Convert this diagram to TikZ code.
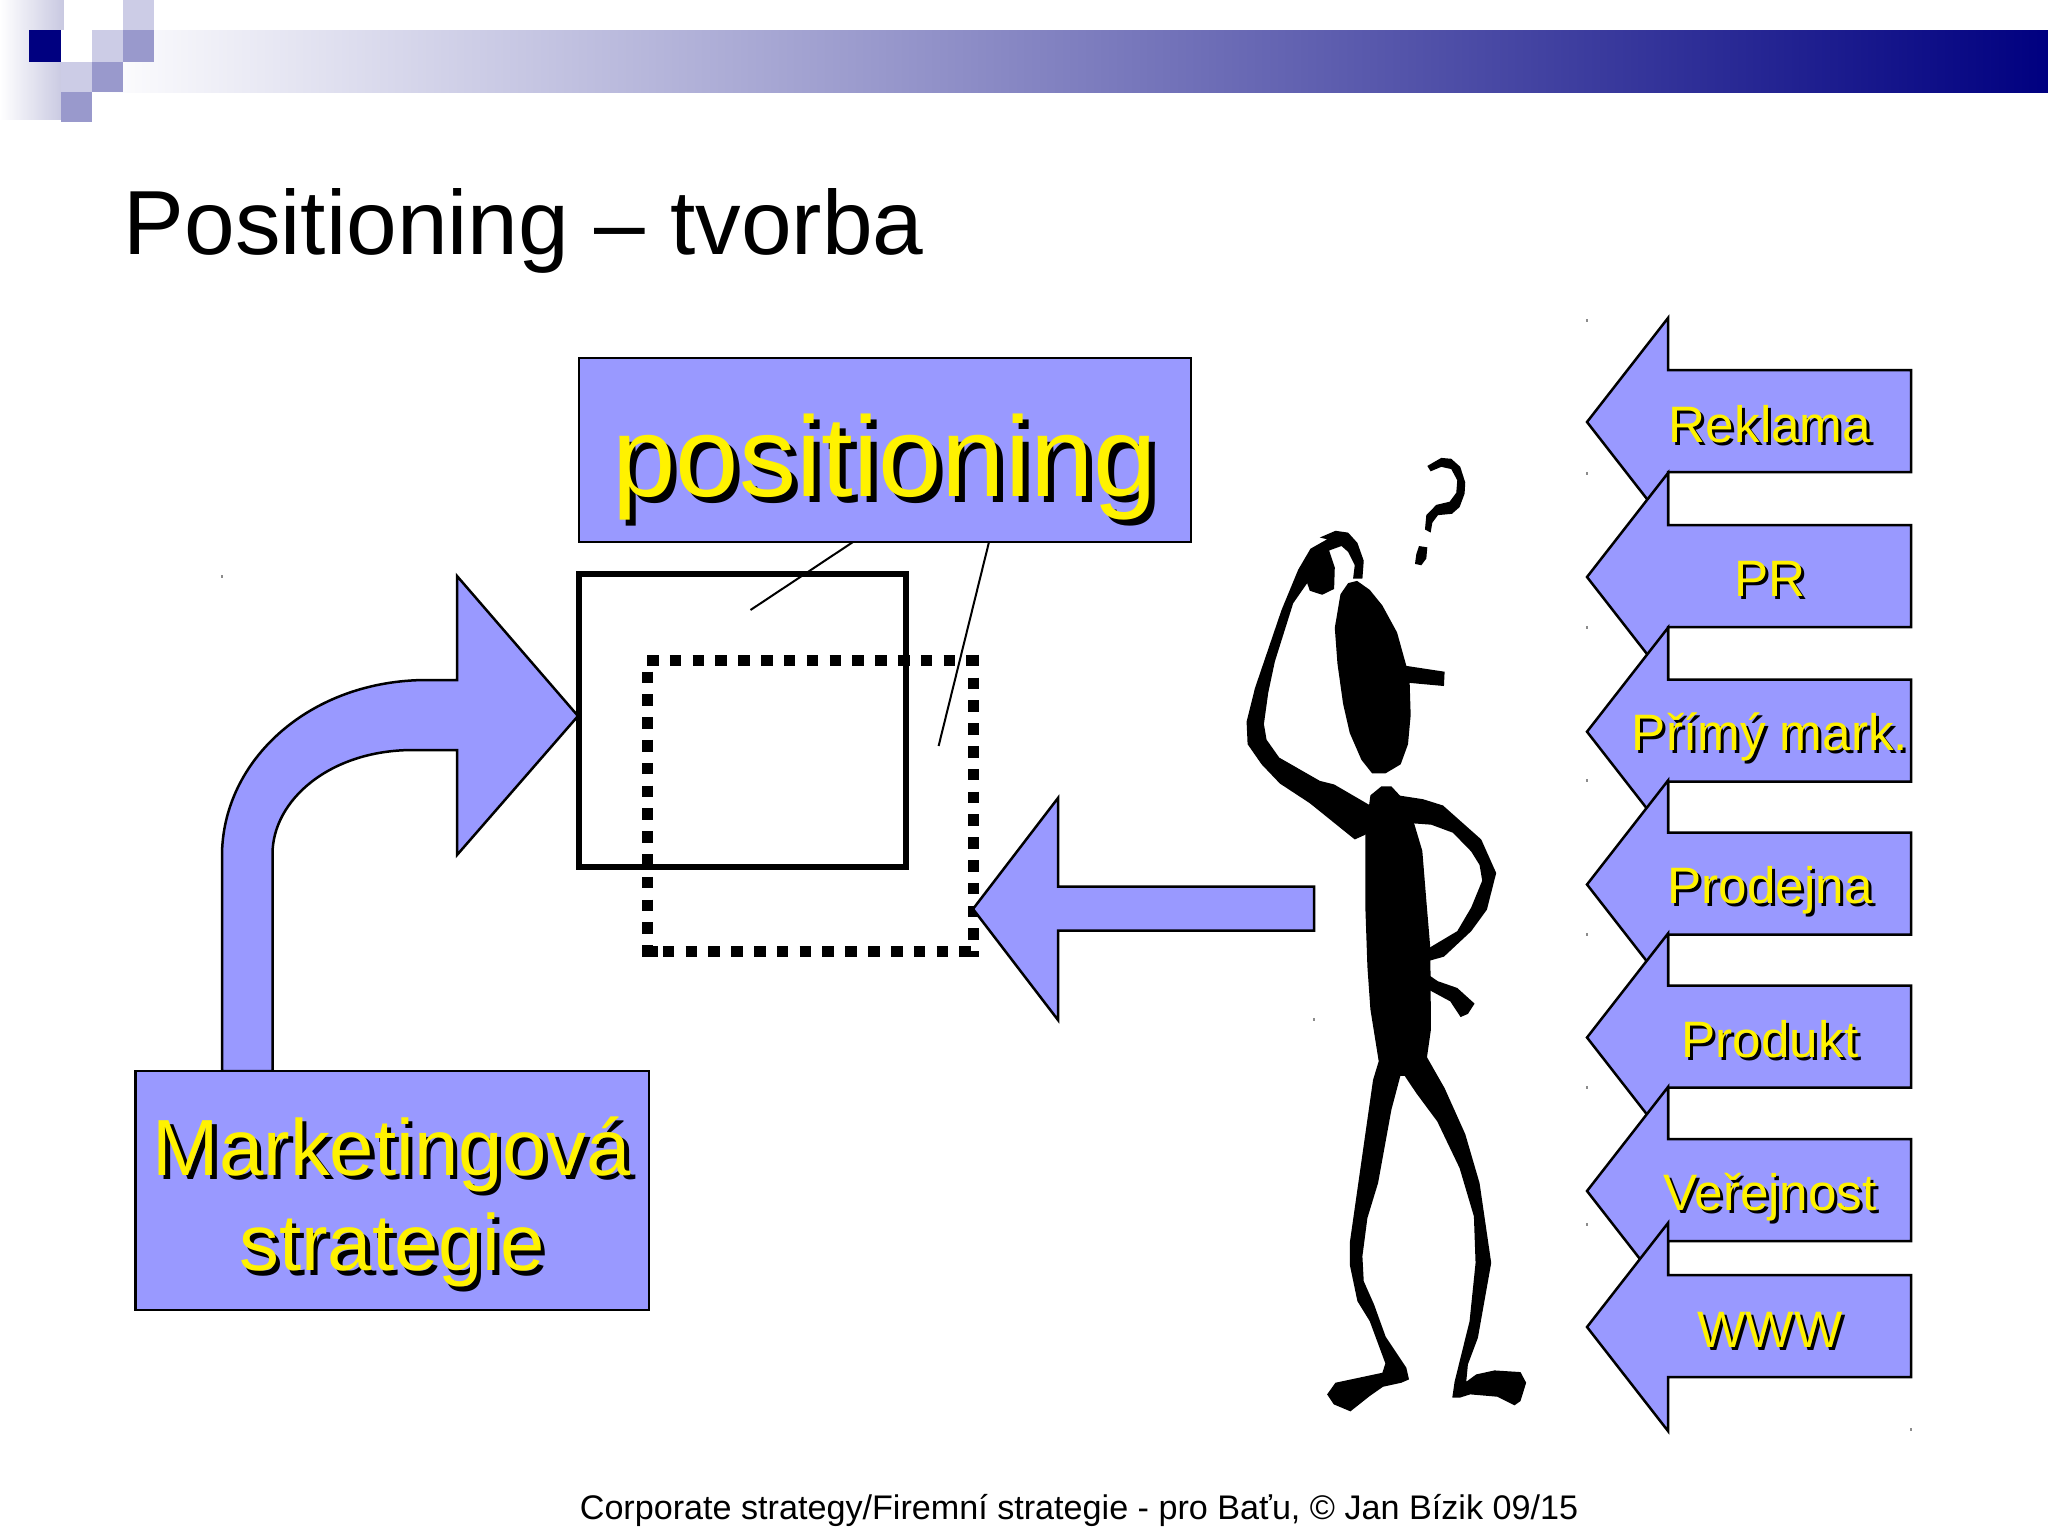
\documentclass[tikz,border=0pt]{standalone}
\usepackage{fontspec}
\setmainfont{Liberation Sans}
\definecolor{boxblue}{HTML}{9999FF}
\definecolor{sqnavy}{HTML}{000080}
\definecolor{sqmid}{HTML}{9999CC}
\definecolor{sqlight}{HTML}{CCCCE6}
\definecolor{striplight}{HTML}{C8C8E1}
\newcommand{\shad}[2]{\leavevmode\rlap{\raisebox{-#1}{\hspace{#1}\textcolor{black}{#2}}}\textcolor{yellow}{#2}}
\tikzset{
  shape line/.style={draw=black,line width=0.025cm,fill=boxblue,line join=miter},
  blue box/.style={shape line,rectangle,inner sep=0pt,outer sep=0pt},
  leader/.style={draw=black,line width=0.02cm},
  dot line/.style={draw=black,line width=0.11cm,dash pattern=on 0.116cm off 0.112cm},
  ink/.style={fill=black,draw=none},
  speck/.style={fill=black!45,draw=none},
  tiny label/.style={inner sep=0pt,anchor=base,font=\fontsize{14.57}{17}\selectfont},
}
\begin{document}
\begin{tikzpicture}[x=0.01cm,y=-0.01cm]
\useasboundingbox (0,0) rectangle (2048,1536);
% header
\shade[left color=white,right color=sqnavy] (92,30) rectangle (2048,92);
\shade[left color=white,right color=striplight] (0,0) rectangle (64,120);
\fill[white] (64,0) rectangle (123,30);
\fill[white] (61,30) rectangle (92,62);
\fill[white] (0,120) rectangle (92,122);
\fill[sqnavy] (29,30) rectangle (61,62);
\fill[sqlight] (123,0) rectangle (154,30);
\fill[sqmid] (123,30) rectangle (154,62);
\fill[sqlight] (92,30) rectangle (123,62);
\fill[sqmid] (92,62) rectangle (123,92);
\fill[sqlight] (61,62) rectangle (92,92);
\fill[sqmid] (61,92) rectangle (92,122);
% title
\node[inner sep=0pt,anchor=base west,font=\fontsize{25.9}{30}\selectfont] (title) at (123,254) {Positioning – tvorba};
% positioning box
\node[blue box,minimum width=6.115cm,minimum height=1.84cm,anchor=north west] (posbox) at (579,358) {};
\node[inner sep=0pt,anchor=base,font=\fontsize{32.4}{38}\selectfont] (poslabel) at (885,496) {\shad{0.06cm}{positioning}};
% squares
\node[draw=black,line width=0.058cm,rectangle,inner sep=0pt,outer sep=0pt,minimum width=3.266cm,minimum height=2.93cm,anchor=north west] (solid) at (579,574) {};
\coordinate (dtl) at (647,660);
\coordinate (dtr) at (973,660);
\coordinate (dl0) at (647,671.5);
\coordinate (dbl) at (647,957);
\coordinate (dr0) at (973,654.7);
\coordinate (dbr) at (973,957);
\coordinate (db0) at (662.8,951.6);
\coordinate (db1) at (978,951.6);
\coordinate (db2) at (642,951.6);
\coordinate (db3) at (658,951.6);
\draw[dot line] (dtl) -- (dtr);
\draw[dot line] (dr0) -- (dbr);
\draw[dot line] (dl0) -- (dbl);
\draw[dot line] (db0) -- (db1);
\draw[draw=black,line width=0.11cm] (db2) -- (db3);
% leader lines
\coordinate (lead1) at (853,542);
\coordinate (end1) at (750.5,610);
\coordinate (lead2) at (989,542);
\coordinate (end2) at (938.6,746);
\draw[leader] (lead1) -- (end1);
\draw[leader] (lead2) -- (end2);
% curved arrow
\path[shape line] (222,1071) -- (222,856) .. controls (222,760) and (310,680) .. (427,680) -- (457,680) -- (457,576) -- (578,716) -- (457,855) -- (457,750) -- (413,750) .. controls (330,750) and (272.5,800) .. (272.5,854) -- (272.5,1071) -- cycle;
% strategy box
\node[blue box,minimum width=5.13cm,minimum height=2.39cm,anchor=north west] (stratbox) at (135.5,1071) {};
\node[inner sep=0pt,align=center,font=\fontsize{22.66}{27.2}\selectfont] (stratlabel) at (392,1204) {\shad{0.045cm}{Marketingová}\\\shad{0.045cm}{strategie}};
% arrow to the dashed square
\path[shape line] (973,909) -- (1058,798) -- (1058,886.5) -- (1314,886.5) -- (1314,930.5) -- (1058,930.5) -- (1058,1020) -- cycle;
% right arrows
\foreach \t/\b/\l [count=\i] in {318/442.7/Reklama,473/596/PR,627.7/750/Přímý mark.,780.5/903.5/Prodejna,933.5/1057/Produkt,1087/1210.7/Veřejnost,1223/1347.5/WWW}{
  \path[shape line] (1587,\t+104) -- (1668,\t) -- (1668,\t+52) -- (1911,\t+52) -- (1911,\t+154) -- (1668,\t+154) -- (1668,\t+208) -- cycle;
  \node[tiny label] (arrowlabel\i) at (1770,\b) {\shad{0.03cm}{\l}};
}
% specks
\foreach \sx/\sy in {222/576,1314/1019,1587/320,1587/473,1587/627,1587/780,1587/934,1587/1087,1587/1224,1911/1429}{
  \fill[speck] (\sx-0.7,\sy-1.5) rectangle (\sx+0.7,\sy+1.5);
}
% figure, upper part
\begin{scope}[shift={(1200,440)},x=0.0033333cm,y=-0.0044643cm]
\fill[ink] (683,58)--(725,40)--(755,42)--(782,60)--(797,95)--(795,120)--(780,150)--(757,165)--(715,168)--(698,185)--(693,207)--(676,200)--(680,168)--(710,145)--(750,138)--(770,118)--(773,90)--(755,65)--(725,60)--(693,70)--cycle;
\fill[ink] (658,237)--(683,240)--(680,265)--(665,280)--(646,277)--(650,255)--cycle;
\fill[ink] (405,420)--(422,345)--(445,320)--(472,315)--(510,335)--(548,370)--(592,430)--(620,505)--(735,518)--(733,550)--(630,543)--(633,615)--(625,680)--(603,725)--(558,745)--(517,745)--(485,715)--(450,655)--(430,590)--(413,500)--cycle;
\fill[ink] (530,825)--(403,770)--(360,762)--(238,710)--(200,670)--(192,635)--(205,565)--(225,495)--(280,365)--(322,320)--(330,337)--(367,346)--(403,333)--(405,285)--(388,247)--(425,237)--(445,250)--(465,280)--(460,310)--(488,310)--(492,270)--(473,230)--(445,207)--(407,203)--(360,218)--(382,222)--(332,243)--(295,290)--(245,380)--(165,555)--(140,630)--(143,680)--(185,725)--(240,768)--(330,812)--(465,893)--(495,883)--(530,865)--cycle;
\fill[ink] (600,795)--(670,803)--(730,817)--(845,893)--(890,968)--(862,1050)--(815,1098)--(733,1155)--(685,1165)--(685,1137)--(773,1098)--(815,1045)--(848,985)--(840,950)--(815,920)--(760,878)--(695,860)--(640,857)--(590,830)--(585,800)--cycle;
\fill[ink] (685,1195)--(715,1210)--(773,1225)--(825,1260)--(805,1283)--(783,1290)--(752,1255)--(685,1228)--cycle;
\end{scope}
% figure, torso and legs
\begin{scope}[shift={(1200,1000)},x=0.0033333cm,y=-0.0033333cm]
\fill[ink] (512,-615)--(545,-642)--(575,-642)--(600,-615)--(643,-532)--(668,-448)--(680,-300)--(692,-157)--(694,88)--(682,172)--(735,265)--(797,403)--(840,550)--(875,790)--(835,1015)--(805,1095)--(800,1147)--(830,1125)--(885,1113)--(963,1118)--(980,1150)--(963,1205)--(945,1218)--(893,1192)--(812,1185)--(780,1195)--(758,1195)--(765,1147)--(810,965)--(828,790)--(823,650)--(780,505)--(713,365)--(650,280)--(615,228)--(602,228)--(575,330)--(535,550)--(503,655)--(488,770)--(492,845)--(523,915)--(558,1012)--(620,1105)--(628,1140)--(605,1150)--(550,1162)--(510,1190)--(452,1236)--(402,1215)--(382,1185)--(407,1150)--(548,1120)--(557,1092)--(510,965)--(473,905)--(450,795)--(450,730)--(520,240)--(537,184)--(512,28)--(503,-100)--(497,-274)--(497,-501)--cycle;
\end{scope}
% footer
\node[inner sep=0pt,anchor=base,font=\fontsize{9.71}{12}\selectfont] (footer) at (1079,1519) {Corporate strategy/Firemní strategie - pro Baťu, © Jan Bízik 09/15};
\end{tikzpicture}
\end{document}
